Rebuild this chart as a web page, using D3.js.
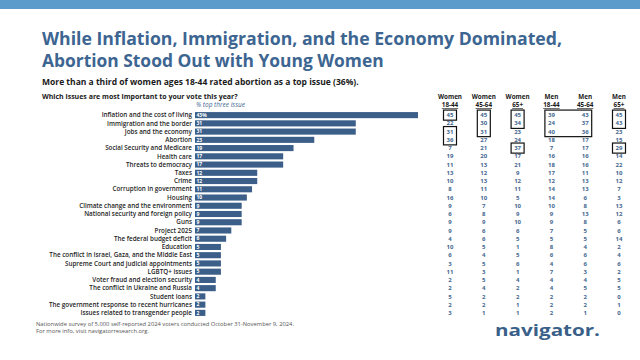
<!DOCTYPE html>
<html>
<head>
<meta charset="utf-8">
<script src="https://cdn.jsdelivr.net/npm/d3@7"></script>
<style>
	body { margin: 0; background: #fff; }
	svg { display: block; font-family: "Open Sans", "Lato", sans-serif; }
</style>
</head>
<body>
<div id="chart"></div>
<script>
var issues = [
	"Inflation and the cost of living", "Immigration and the border", "Jobs and the economy",
	"Abortion", "Social Security and Medicare", "Health care", "Threats to democracy",
	"Taxes", "Crime", "Corruption in government", "Housing", "Climate change and the environment",
	"National security and foreign policy", "Guns", "Project 2025", "The federal budget deficit",
	"Education", "The conflict in Israel, Gaza, and the Middle East",
	"Supreme Court and judicial appointments", "LGBTQ+ issues", "Voter fraud and election security",
	"The conflict in Ukraine and Russia", "Student loans",
	"The government response to recent hurricanes", "Issues related to transgender people"
];
var topThree = [43, 31, 31, 23, 19, 17, 17, 12, 12, 11, 10, 9, 9, 9, 7, 6, 5, 5, 5, 5, 4, 4, 2, 2, 2];

var groups = [["Women", "18-44"], ["Women", "45-64"], ["Women", "65+"], ["Men", "18-44"], ["Men", "45-64"], ["Men", "65+"]];
var women1844 = [45, 22, 31, 36, 7, 19, 11, 13, 10, 8, 16, 9, 6, 9, 9, 4, 10, 6, 3, 11, 2, 2, 5, 2, 3];
var women4564 = [45, 30, 31, 27, 21, 20, 13, 12, 13, 11, 10, 7, 8, 9, 6, 6, 5, 4, 5, 3, 5, 4, 2, 2, 1];
var women65 = [45, 34, 23, 24, 37, 17, 21, 9, 12, 11, 5, 10, 9, 10, 6, 5, 1, 5, 6, 1, 4, 2, 2, 1, 1];
var men1844 = [39, 24, 40, 18, 7, 16, 18, 17, 12, 14, 14, 10, 9, 9, 7, 5, 8, 6, 4, 7, 4, 4, 2, 2, 2];
var men4564 = [43, 37, 36, 17, 17, 16, 16, 11, 13, 13, 6, 8, 13, 8, 5, 5, 4, 6, 6, 3, 4, 5, 2, 2, 1];
var men65 = [45, 43, 23, 15, 29, 14, 22, 10, 12, 7, 3, 13, 12, 6, 6, 14, 2, 4, 6, 2, 5, 5, 0, 1, 0];
var columns = [women1844, women4564, women65, men1844, men4564, men65];

// highlighted cells: [first column, last column, first row, last row]
var boxes = [[0, 0, 0, 0], [0, 0, 2, 3], [1, 1, 0, 2], [2, 2, 0, 1], [2, 2, 4, 4], [3, 4, 0, 2], [5, 5, 0, 1], [5, 5, 4, 4]];

var blue = "#3d6591", barBlue = "#3b5f89", numBlue = "#45678f";

var svg = d3.select("#chart").append("svg")
	.attr("width", 640)
	.attr("height", 360);

svg.append("rect").attr("x", 0).attr("y", 0).attr("width", 640).attr("height", 9).attr("fill", "#5b9bcb");

var title = svg.append("text").attr("x", 42).attr("fill", blue)
	.style("font-weight", 700).style("font-size", "17.4px");
title.append("tspan").attr("x", 42).attr("y", 44.5).attr("textLength", 520).attr("lengthAdjust", "spacingAndGlyphs")
	.text("While Inflation, Immigration, and the Economy Dominated,");
title.append("tspan").attr("x", 42).attr("y", 67).text("Abortion Stood Out with Young Women");

svg.append("text").attr("x", 42).attr("y", 85)
	.style("font-size", "8.5px").style("font-weight", 700).attr("fill", "#1a1a1a")
	.text("More than a third of women ages 18-44 rated abortion as a top issue (36%).");

svg.append("text").attr("x", 42).attr("y", 99)
	.style("font-size", "7px").style("font-weight", 700).attr("fill", "#1a1a1a")
	.text("Which issues are most important to your vote this year?");

svg.append("text").attr("x", 196).attr("y", 107)
	.style("font-size", "6.5px").style("font-style", "italic").attr("fill", blue)
	.text("% top three issue");

var y = d3.scaleBand().domain(d3.range(issues.length)).range([111, 317]).paddingInner(0.26).paddingOuter(0.13);
var x = d3.scaleLinear().domain([0, 43]).range([195, 418]);

var rows = svg.append("g").selectAll("g")
	.data(issues)
	.enter().append("g")
		.attr("transform", function(d, i) { return "translate(0," + y(i) + ")"; });

rows.append("text")
	.attr("x", 192).attr("y", y.bandwidth() / 2).attr("dy", "0.35em")
	.style("text-anchor", "end").style("font-size", "6.3px").style("font-weight", 600).attr("fill", "#1e1e1e")
	.text(function(d) { return d; });

rows.append("rect")
	.attr("x", x(0)).attr("y", 0)
	.attr("width", function(d, i) { return x(topThree[i]) - x(0); })
	.attr("height", y.bandwidth())
	.attr("fill", barBlue);

rows.append("text")
	.attr("x", x(0) + 1.5).attr("y", y.bandwidth() / 2).attr("dy", "0.35em")
	.style("font-size", "5px").style("font-weight", 700).attr("fill", "#fff")
	.text(function(d, i) { return i == 0 ? topThree[i] + "%" : topThree[i]; });

var cx = d3.scalePoint().domain(d3.range(groups.length)).range([450, 619]);

var heads = svg.append("g").selectAll("g")
	.data(groups)
	.enter().append("g")
		.attr("transform", function(d, i) { return "translate(" + cx(i) + ",0)"; });

heads.append("text").attr("y", 99)
	.style("text-anchor", "middle").style("font-size", "6.3px").style("font-weight", 700).attr("fill", "#1a1a1a")
	.text(function(d) { return d[0]; });
heads.append("text").attr("y", 107)
	.style("text-anchor", "middle").style("font-size", "6.3px").style("font-weight", 700).attr("fill", "#1a1a1a")
	.style("text-decoration", "underline")
	.text(function(d) { return d[1]; });

heads.selectAll("text.num")
	.data(function(d, i) { return columns[i]; })
	.enter().append("text")
		.attr("class", "num")
		.attr("y", function(d, i) { return y(i) + y.bandwidth() / 2; }).attr("dy", "0.35em")
		.style("text-anchor", "middle").style("font-size", "6px").style("font-weight", 700).attr("fill", numBlue)
		.text(function(d) { return d; });

svg.append("g").selectAll("rect")
	.data(boxes)
	.enter().append("rect")
		.attr("x", function(d) { return cx(d[0]) - 6.5; })
		.attr("y", function(d) { return y(d[2]) - 2; })
		.attr("width", function(d) { return cx(d[1]) - cx(d[0]) + 13; })
		.attr("height", function(d) { return y(d[3]) - y(d[2]) + y.bandwidth() + 4; })
		.attr("fill", "none").attr("stroke", "#111").attr("stroke-width", 1.2);

svg.append("text").attr("x", 36).attr("y", 326)
	.style("font-size", "5.8px").attr("fill", "#555")
	.text("Nationwide survey of 5,000 self-reported 2024 voters conducted October 31-November 9, 2024.");
svg.append("text").attr("x", 36).attr("y", 333)
	.style("font-size", "5.8px").attr("fill", "#555")
	.text("For more info, visit navigatorresearch.org.");

svg.append("text").attr("x", 495).attr("y", 336)
	.style("font-size", "15.5px").style("font-weight", 700).attr("fill", "#3a5f88")
	.attr("textLength", 105).attr("lengthAdjust", "spacingAndGlyphs")
	.text("navigator.");
</script>
</body>
</html>
